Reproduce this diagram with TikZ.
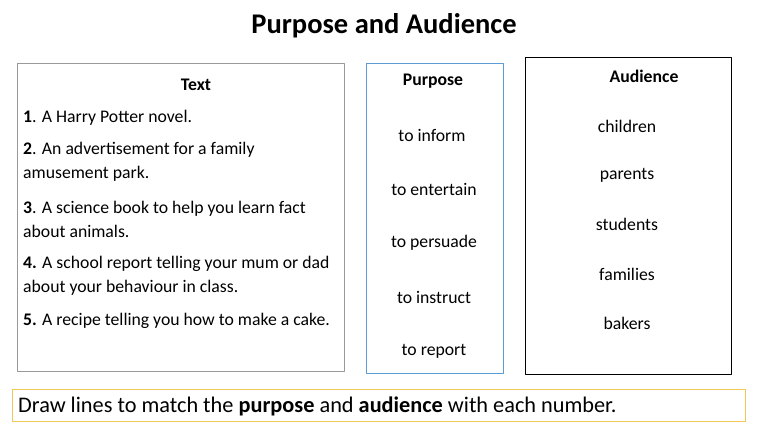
\documentclass[tikz,border=0pt]{standalone}
\usepackage{fontspec}
\setmainfont{Carlito}
\usepackage{tikz}
\definecolor{bluebox}{rgb}{0.36,0.61,0.84}
\definecolor{goldbox}{rgb}{0.95,0.78,0.35}
\definecolor{greybox}{rgb}{0.6,0.6,0.6}
\tikzset{every node/.style={font=\fontsize{17.7}{24}\selectfont},
  item/.style={anchor=west,align=left,inner sep=0pt},
  word/.style={inner sep=0pt}}
\begin{document}
\begin{tikzpicture}[line cap=round,line join=round,x=1pt,y=-1pt]
            \useasboundingbox (0,0) rectangle (768,433);
            \node[font=\fontsize{28.5}{32}\selectfont\bfseries] (title) at (384,26) {Purpose and Audience};
            \draw [line width=0.6pt,color=greybox] (17,63) rectangle (344,371);
            \draw [line width=0.6pt,color=bluebox] (366,63) rectangle (503,373);
            \draw [line width=0.9pt] (525,57) rectangle (731,374);
            \draw [line width=0.6pt,color=goldbox] (12,389) rectangle (745,421);
            \node[word,font=\fontsize{17.7}{24}\selectfont\bfseries] (text) at (196,85) {Text};
            \node[item] (t1) at (23,118) {\textbf{1}. A Harry Potter novel.};
            \node[item] (t2) at (23,162) {\textbf{2}. An advertisement for a family\\amusement park.};
            \node[item] (t3) at (23,219) {\textbf{3}. A science book to help you learn fact\\about animals.};
            \node[item] (t4) at (23,276) {\textbf{4.} A school report telling your mum or dad\\about your behaviour in class.};
            \node[item] (t5) at (23,321) {\textbf{5.} A recipe telling you how to make a cake.};
            \node[word,font=\fontsize{17.7}{24}\selectfont\bfseries] (purpose) at (433,81) {Purpose};
            \node[word] (p1) at (432,135) {to inform};
            \node[word] (p2) at (434,189) {to entertain};
            \node[word] (p3) at (434,243) {to persuade};
            \node[word] (p4) at (434,297) {to instruct};
            \node[word] (p5) at (434,351) {to report};
            \node[word,font=\fontsize{17.7}{24}\selectfont\bfseries] (audience) at (644,76) {Audience};
            \node[word] (a1) at (627,126) {children};
            \node[word] (a2) at (627,175) {parents};
            \node[word] (a3) at (627,224) {students};
            \node[word] (a4) at (627,274) {families};
            \node[word] (a5) at (627,323) {bakers};
            \node[word,anchor=west,font=\fontsize{22.3}{26}\selectfont] (task) at (18,406) {Draw lines to match the \textbf{purpose} and \textbf{audience} with each number.};
\end{tikzpicture}
\end{document}
